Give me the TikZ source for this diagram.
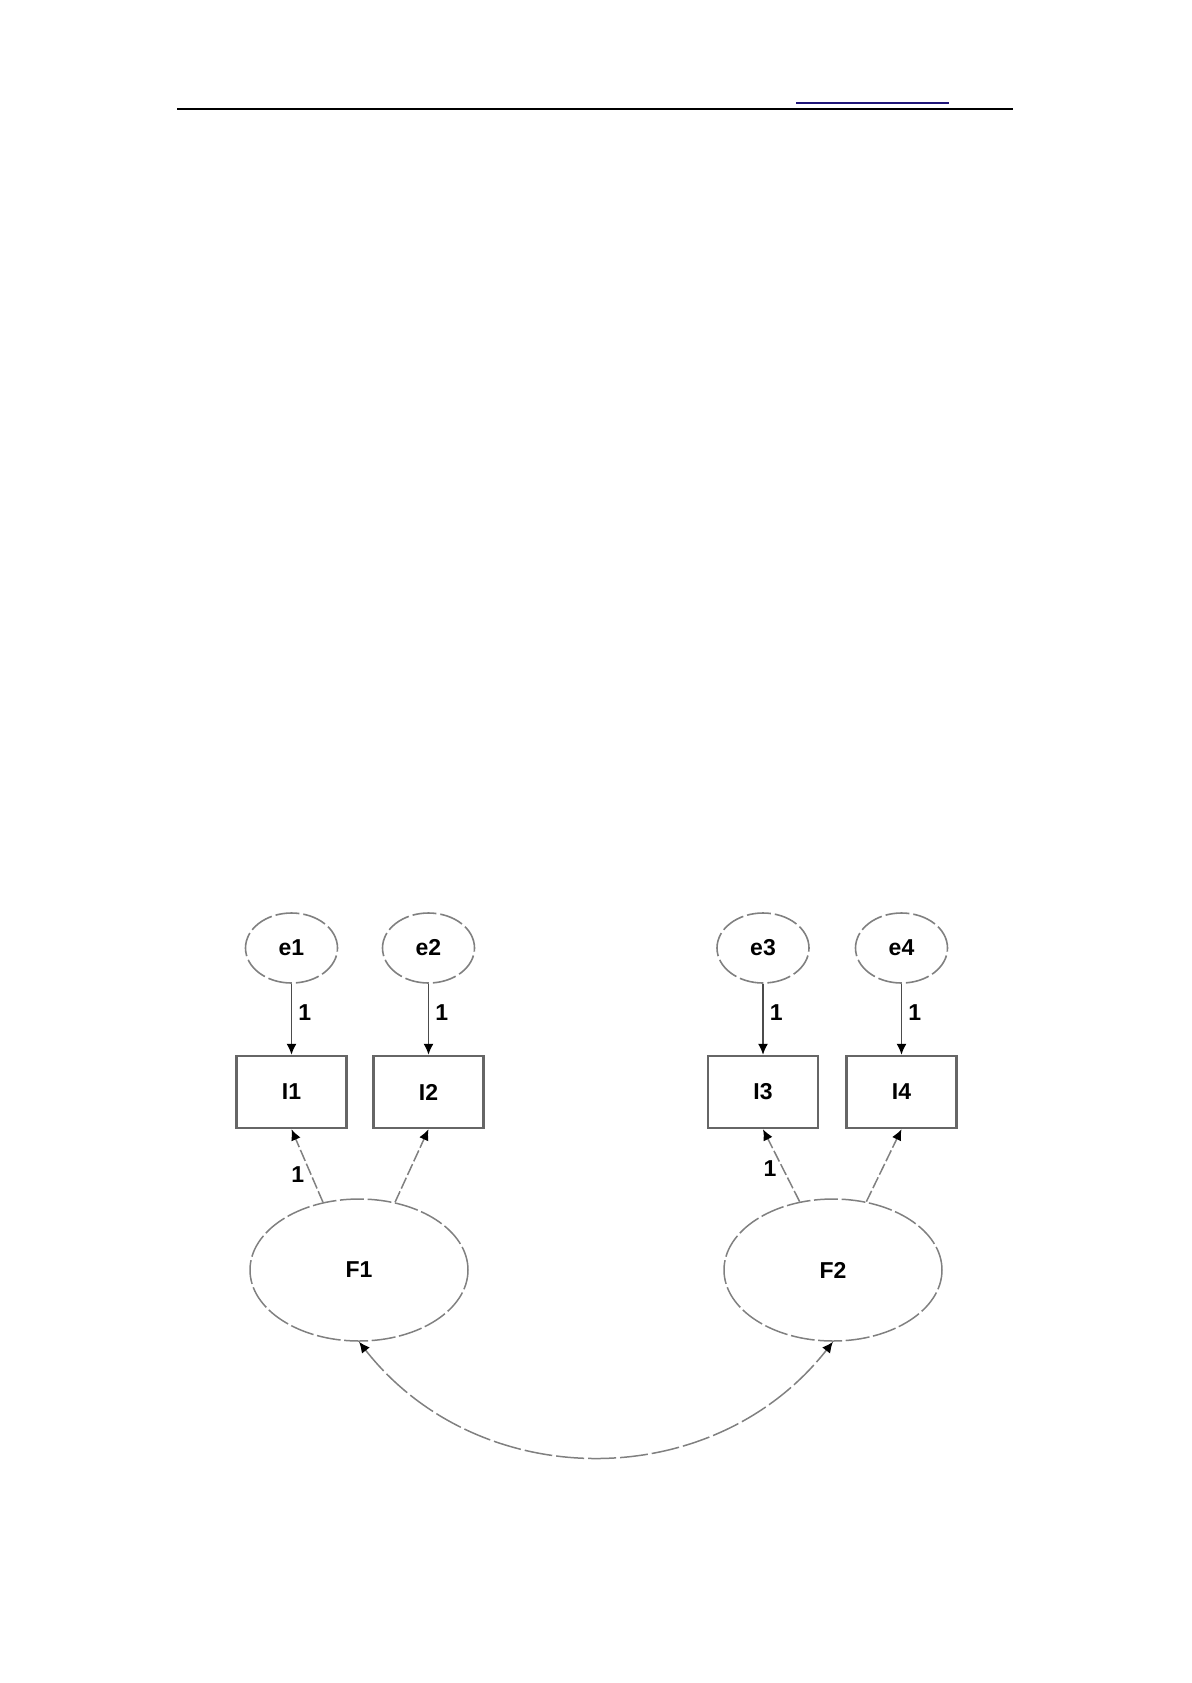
\documentclass[tikz,border=0pt]{standalone}
\usepackage{fontspec}
\setmainfont{Liberation Sans}
\usepackage{xcolor}
\usetikzlibrary{shapes.geometric}
\usetikzlibrary{arrows.meta}

\definecolor{linkblue}{RGB}{30,20,120}

\begin{document}
\begin{tikzpicture}[
    x=0.5pt, y=-0.5pt,
    % --- Saját stílusok definiálása ---
    obsBox/.style = {draw=#1, line width=1.2pt, minimum width=55pt, minimum height=36pt, inner sep=0pt, font=\bfseries\fontsize{11.5}{13}\selectfont}, % megfigyelt változó
    errNode/.style = {ellipse, draw=#1, line width=0.8pt, dash pattern=on 12pt off 2pt, minimum width=46pt, minimum height=35pt, inner sep=0pt, font=\bfseries\fontsize{11.5}{13}\selectfont}, % hibatag
    latNode/.style = {ellipse, draw=#1, line width=0.75pt, dash pattern=on 12pt off 1.8pt, minimum width=109pt, minimum height=71pt, inner sep=0pt, font=\bfseries\fontsize{11.5}{13}\selectfont}, % látens faktor
    errArrow/.style = {color=#1, line width=0.85pt, -{Latex[length=5.5pt,width=5pt,color=black]}}, % hiba -> indikátor
    loadArrow/.style = {color=#1, line width=0.75pt, dash pattern=on 6pt off 1.5pt, -{Latex[length=5.5pt,width=5pt,color=black]}}, % faktorsúly
    covArrow/.style = {color=#1, line width=0.75pt, dash pattern=on 14pt off 2pt, {Latex[length=5.5pt,width=5pt,color=black]}-{Latex[length=5.5pt,width=5pt,color=black]}}, % kovariancia
    lbl/.style = {text=black, font=\bfseries\fontsize{11.5}{13}\selectfont, inner sep=3pt} % címkék
    ]

    % --- Paraméterek definiálása ---
    \def\eY{948}     % hibatagok sora
    \def\iY{1092}    % indikátorok sora
    \def\fY{1270}    % faktorok sora

    \useasboundingbox (0,0) rectangle (1191,1683);

    % --- Fejléc vonalai ---
    \coordinate (HL) at (177,109);
    \coordinate (HR) at (1013,109);
    \coordinate (LL) at (796,103);
    \coordinate (LR) at (949,103);
    \draw[black, line width=0.7pt] (HL) -- (HR);
    \draw[linkblue, line width=0.6pt] (LL) -- (LR);

    % --- Hibatagok ---
    \node[errNode={gray}] (e1) at (291.5,\eY) {e1};
    \node[errNode={gray}] (e2) at (428.5,\eY) {e2};
    \node[errNode={gray}] (e3) at (763,\eY) {e3};
    \node[errNode={gray}] (e4) at (901.5,\eY) {e4};

    % --- Indikátorok ---
    \node[obsBox={black!60}] (I1) at (291.5,\iY) {I1};
    \node[obsBox={black!60}] (I2) at (428.5,\iY) {I2};
    \node[obsBox={black!60}] (I3) at (763,\iY) {I3};
    \node[obsBox={black!60}] (I4) at (901.5,\iY) {I4};

    % --- Faktorok ---
    \node[latNode={gray}] (F1) at (359,\fY) {F1};
    \node[latNode={gray}] (F2) at (833,\fY) {F2};

    % --- Hiba nyilak ---
    \draw[errArrow={black!70}] (e1) -- node[lbl, right, pos=0.4] {1} (I1);
    \draw[errArrow={black!70}] (e2) -- node[lbl, right, pos=0.4] {1} (I2);
    \draw[errArrow={black!70}] (e3) -- node[lbl, right, pos=0.4] {1} (I3);
    \draw[errArrow={black!70}] (e4) -- node[lbl, right, pos=0.4] {1} (I4);

    % --- Faktorsúlyok ---
    \draw[loadArrow={gray}] (F1.118) -- node[lbl, left, pos=0.38] {1} (I1.south);
    \draw[loadArrow={gray}] (F1.62) -- (I2.south);
    \draw[loadArrow={gray}] (F2.116) -- node[lbl, left, pos=0.45] {1} (I3.south);
    \draw[loadArrow={gray}] (F2.64) -- (I4.south);

    % --- Kovariancia ív ---
    \draw[covArrow={gray}] (F1.south) .. controls +(120,153) and +(-120,153) .. (F2.south);
\end{tikzpicture}
\end{document}
